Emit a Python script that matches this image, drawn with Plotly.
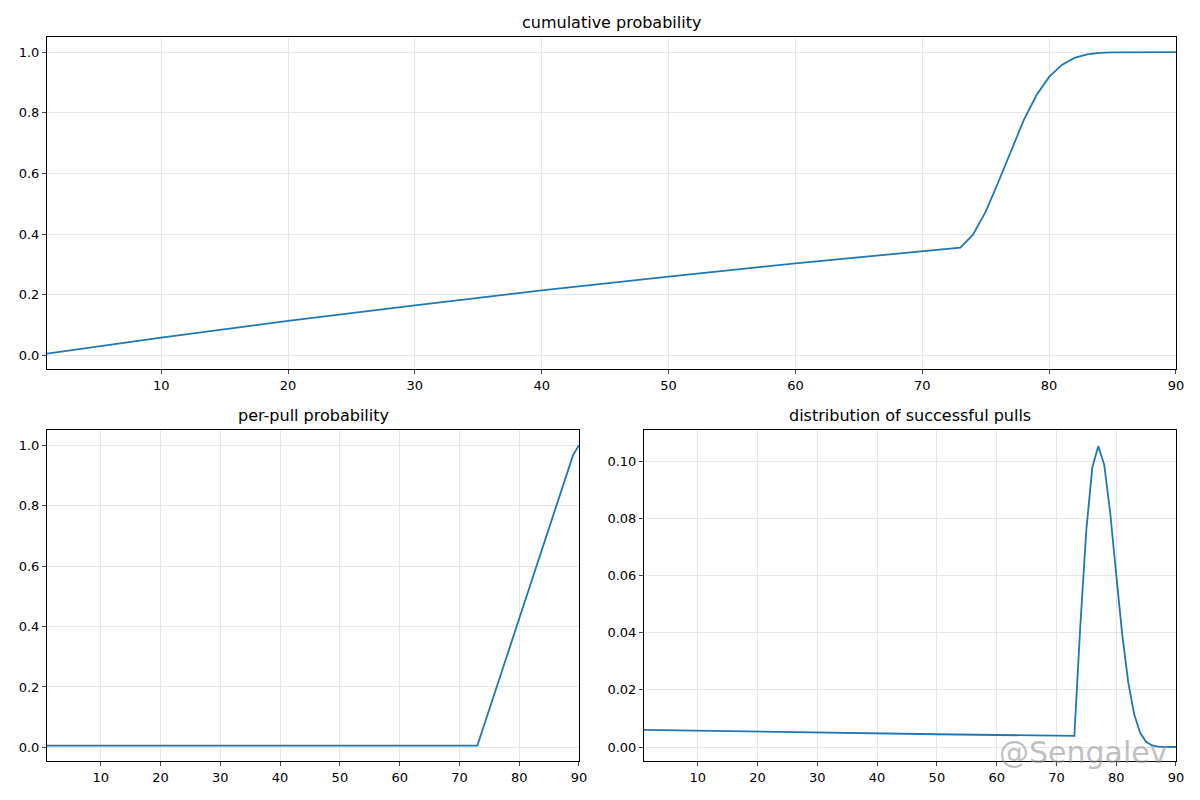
import plotly.graph_objects as go

pulls = [1, 10, 20, 30, 40, 50, 60, 70, 73, 74, 75, 76, 77, 78, 79, 80, 81, 82, 83, 84, 85, 86, 87, 88, 89, 90]
per_pull = [0.006, 0.006, 0.006, 0.006, 0.006, 0.006, 0.006, 0.006, 0.006,
            0.066, 0.126, 0.186, 0.246, 0.306, 0.366, 0.426, 0.486, 0.546, 0.606,
            0.666, 0.726, 0.786, 0.846, 0.906, 0.966, 1.0]
distribution = [0.006, 0.005684, 0.005352, 0.005039, 0.004745, 0.004468, 0.004207, 0.003961, 0.003890,
                0.042536, 0.075845, 0.097854, 0.105348, 0.098806, 0.082017, 0.060524, 0.039633,
                0.022887, 0.011532, 0.004994, 0.001818, 0.000539, 0.000124, 0.0000205, 0.000002, 0.0000001]
cumulative = [0.006, 0.0584, 0.1134, 0.1652, 0.2140, 0.2599, 0.3031, 0.3438, 0.3555,
              0.398056, 0.473901, 0.571755, 0.677103, 0.775909, 0.857926, 0.918450, 0.958083,
              0.980970, 0.992502, 0.997496, 0.999314, 0.999853, 0.999977, 0.999998, 0.9999999, 1.0]
titles = ["cumulative probability", "per-pull probability", "distribution of successful pulls"]
xticks = [10, 20, 30, 40, 50, 60, 70, 80, 90]

C = "#1f77b4"
fig = go.Figure()
fig.add_trace(go.Scatter(x=pulls, y=cumulative, mode="lines", line=dict(color=C, width=1.8), xaxis="x", yaxis="y"))
fig.add_trace(go.Scatter(x=pulls, y=per_pull, mode="lines", line=dict(color=C, width=1.8), xaxis="x2", yaxis="y2"))
fig.add_trace(go.Scatter(x=pulls, y=distribution, mode="lines", line=dict(color=C, width=1.8), xaxis="x3", yaxis="y3"))

ax = dict(showline=True, linecolor="black", linewidth=1, mirror=True, ticks="outside", ticklen=4, automargin=False,
          showgrid=True, gridcolor="#e6e6e6", zeroline=False, tickfont=dict(size=13, color="black"))
xa = dict(ax, range=[1, 90], tickvals=xticks)
top_y = [0.54875, 0.96375]
bot_y = [0.05875, 0.4725]
fig.update_layout(
    width=1200, height=800, margin=dict(l=0, r=0, t=0, b=0, autoexpand=False), showlegend=False,
    plot_bgcolor="white", paper_bgcolor="white",
    font=dict(family="DejaVu Sans", color="black"),
    xaxis=dict(xa, domain=[0.0325, 0.9733], anchor="y"),
    yaxis=dict(ax, domain=top_y, range=[-0.045, 1.05], tickvals=[0, 0.2, 0.4, 0.6, 0.8, 1.0], tickformat=".1f", anchor="x"),
    xaxis2=dict(xa, domain=[0.0325, 0.4758], anchor="y2"),
    yaxis2=dict(ax, domain=bot_y, range=[-0.045, 1.05], tickvals=[0, 0.2, 0.4, 0.6, 0.8, 1.0], tickformat=".1f", anchor="x2"),
    xaxis3=dict(xa, domain=[0.53, 0.9733], anchor="y3"),
    yaxis3=dict(ax, domain=bot_y, range=[-0.0049, 0.111], tickvals=[0, 0.02, 0.04, 0.06, 0.08, 0.10], tickformat=".2f", anchor="x3"),
)
for t, (xc, yt) in zip(titles, [(0.50292, 0.96375), (0.25417, 0.4725), (0.75167, 0.4725)]):
    fig.add_annotation(text=t, x=xc, y=yt, xref="paper", yref="paper", xanchor="center", yanchor="bottom", yshift=3,
                       showarrow=False, font=dict(size=16, color="black"))
fig.add_annotation(text="@Sengalev", x=0.968, y=0.045, xref="paper", yref="paper", xanchor="right", yanchor="bottom",
                   showarrow=False, font=dict(size=30, color="rgba(150,150,150,0.6)"))
fig.write_html("out.html")
